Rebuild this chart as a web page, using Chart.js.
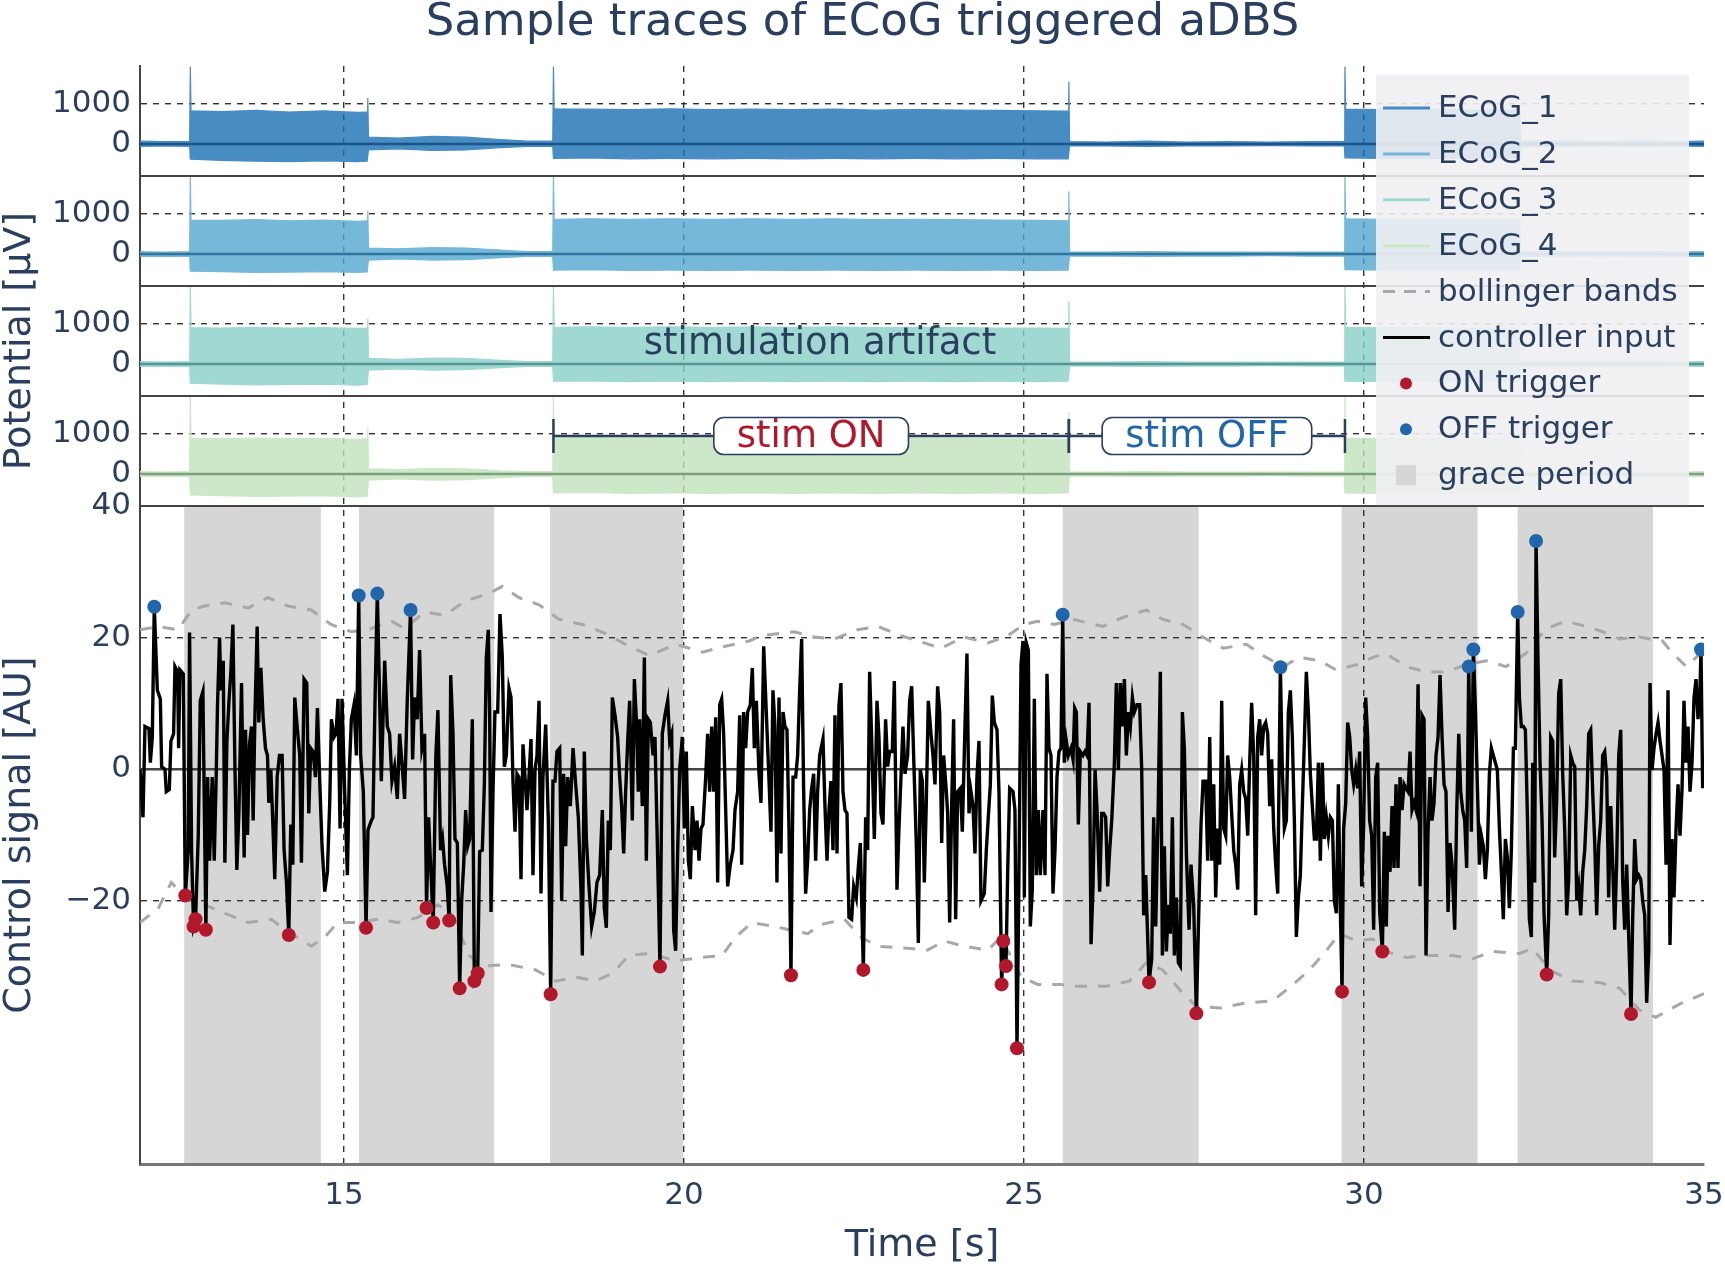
<!DOCTYPE html>
<html>
<head>
<meta charset="utf-8">
<title>Sample traces of ECoG triggered aDBS</title>
<script src="https://cdn.jsdelivr.net/npm/chart.js@4.4.1/dist/chart.umd.min.js"></script>
<style>
  html, body { margin: 0; padding: 0; background: #fff; }
  canvas { display: block; }
</style>
</head>
<body>
<canvas id="chart" width="1725" height="1269"></canvas>
<script>
const FONT = '"DejaVu Sans", Verdana, sans-serif';
const TEXT = '#2a3f5f';

// axes
const xTicks = [15, 20, 25, 30, 35];
const ecogTicks = [0, 1000];
const controlTicks = [-20, 0, 20, 40];

const channels = ['ECoG_1', 'ECoG_2', 'ECoG_3', 'ECoG_4'];
const legendLabels = ['ECoG_1', 'ECoG_2', 'ECoG_3', 'ECoG_4', 'bollinger bands',
  'controller input', 'ON trigger', 'OFF trigger', 'grace period'];

// ECoG envelopes (upper / lower edge of the recorded trace), shared time points in s
const ecogTime = [12.00, 12.35, 12.73, 12.74, 12.75,
  13.20, 13.70, 14.20, 14.70, 15.20, 15.34, 15.35,
  15.36, 15.80, 16.30, 16.80, 17.30, 17.70, 18.07, 18.08, 18.09,
  18.60, 19.20, 19.80, 20.40, 21.00, 21.60, 22.20, 22.80, 23.40, 24.00, 24.60, 25.20, 25.65, 25.66,
  25.67, 26.20, 26.80, 27.40, 28.00, 28.60, 29.20, 29.71, 29.72, 29.73,
  30.30, 30.90, 31.50, 32.29, 32.30, 32.90, 33.50, 34.10, 34.60, 35.00];
const ecog1Upper = [70, 60, 60, 1940, 830, 810, 840, 800, 830, 790, 800, 1150,
  170, 150, 190, 170, 110, 70, 70, 1940, 880,
  870, 860, 880, 860, 870, 860, 870, 850, 860, 850, 840, 830, 820, 1560,
  60, 50, 70, 50, 60, 50, 60, 60, 1940, 870, 860, 860, 850, 850, 80, 70, 60, 70, 60, 70];
const ecog1Lower = [-60, -50, -60, -380, -380, -410, -430, -440, -420, -440, -430, -430,
  -150, -120, -160, -150, -90, -60, -60, -360, -360,
  -350, -370, -360, -370, -360, -370, -360, -370, -360, -370, -360, -370, -370, -370,
  -50, -50, -60, -50, -50, -40, -50, -50, -350, -350, -360, -360, -360, -360, -60, -60, -50, -60, -50, -60];
const ecog2Upper = [60, 50, 60, 1940, 850, 840, 860, 830, 850, 820, 830, 1080,
  150, 130, 160, 150, 100, 60, 60, 1940, 870,
  880, 870, 880, 870, 880, 870, 880, 860, 870, 860, 850, 840, 830, 1560,
  50, 50, 60, 50, 50, 50, 50, 50, 1940, 880, 870, 870, 860, 860, 70, 60, 60, 60, 50, 60];
const ecog2Lower = [-60, -50, -60, -430, -430, -440, -460, -450, -440, -460, -450, -450,
  -150, -120, -150, -140, -90, -60, -60, -400, -400,
  -390, -410, -400, -410, -400, -410, -400, -410, -400, -410, -400, -410, -400, -400,
  -50, -50, -60, -50, -50, -40, -50, -50, -390, -390, -400, -400, -400, -400, -60, -60, -50, -60, -50, -60];
const ecog3Upper = [60, 50, 60, 1940, 910, 900, 920, 900, 910, 890, 900, 1140,
  140, 120, 150, 140, 90, 60, 60, 1940, 920,
  930, 920, 930, 920, 930, 920, 930, 910, 920, 910, 900, 900, 890, 1570,
  50, 50, 60, 50, 50, 50, 50, 50, 1940, 920, 910, 910, 900, 900, 70, 60, 60, 60, 50, 60];
const ecog3Lower = [-60, -50, -60, -480, -480, -500, -520, -510, -500, -530, -510, -510,
  -150, -120, -150, -140, -90, -60, -60, -430, -430,
  -420, -440, -430, -440, -430, -440, -430, -440, -430, -440, -430, -440, -430, -430,
  -50, -50, -60, -50, -50, -40, -50, -50, -430, -430, -440, -440, -440, -440, -60, -60, -50, -60, -50, -60];
const ecog4Upper = [60, 50, 60, 1940, 890, 880, 900, 880, 890, 870, 880, 1180,
  130, 110, 140, 130, 80, 60, 60, 1940, 900,
  910, 900, 910, 900, 910, 900, 910, 890, 900, 890, 880, 880, 870, 1560,
  50, 50, 60, 50, 50, 50, 50, 50, 1940, 900, 890, 890, 880, 880, 70, 60, 60, 60, 50, 60];
const ecog4Lower = [-60, -50, -60, -520, -520, -540, -560, -550, -540, -570, -550, -550,
  -150, -120, -150, -140, -90, -60, -60, -470, -470,
  -460, -480, -470, -480, -470, -480, -470, -480, -470, -480, -470, -480, -470, -470,
  -50, -50, -60, -50, -50, -40, -50, -50, -470, -470, -480, -480, -480, -480, -60, -60, -50, -60, -50, -60];
const ecogZeroTime = [12, 35];
const ecogZeroValue = [0, 0];

// controller input [time s, value AU]
const controlInput = [
  [12.000,0],[12.044,-7.3],[12.073,6.5],[12.132,6.2],[12.152,1],[12.181,4.9],[12.210,24.7],[12.255,12],[12.299,10.7],[12.318,0.4],
  [12.367,0],[12.387,-3.4],[12.431,-3.1],[12.455,4.3],[12.494,5.4],[12.514,15.6],[12.553,14.8],[12.568,3.2],[12.587,15.1],[12.636,14.5],
  [12.666,-19.2],[12.710,-12.3],[12.729,20.8],[12.759,-12.8],[12.788,-23.9],[12.817,-22.8],[12.857,-10],[12.886,10.4],[12.925,11.8],[12.969,-24.4],
  [12.994,-1.2],[13.023,-13.9],[13.062,-1.2],[13.092,-13.9],[13.121,-0.7],[13.140,9.8],[13.170,20],[13.189,12],[13.224,16.5],[13.248,-14.2],
  [13.278,4.3],[13.307,10.1],[13.336,14.8],[13.366,22],[13.395,1],[13.424,-15.3],[13.454,-6.7],[13.493,13.1],[13.532,-13.4],[13.552,6],
  [13.581,-10],[13.610,3.8],[13.640,6.5],[13.664,-7.8],[13.689,7.6],[13.723,21.7],[13.747,7.1],[13.777,15.4],[13.811,7.6],[13.845,3.2],
  [13.875,2.1],[13.894,-5.1],[13.924,-0.1],[13.948,-6.7],[13.982,-16.7],[14.017,-1.2],[14.051,2.1],[14.090,2.1],[14.119,-12.3],[14.154,-17.2],
  [14.188,-25.2],[14.217,-8.4],[14.247,-14.5],[14.276,10.9],[14.315,6],[14.349,2.1],[14.374,-14.2],[14.413,13.7],[14.452,13.1],[14.482,-6.7],
  [14.511,3.2],[14.545,2.7],[14.580,-1.2],[14.609,9.3],[14.643,-1.8],[14.677,-11.7],[14.717,-18.6],[14.756,-15.6],[14.790,-5.1],[14.815,7.6],
  [14.854,4.9],[14.883,5.4],[14.912,10.7],[14.942,-9],[14.971,10.7],[15.010,-3.4],[15.050,-16.1],[15.079,-0.1],[15.108,7.6],[15.147,9.8],
  [15.182,2.1],[15.216,26.4],[15.245,2.1],[15.284,-3.4],[15.324,-24.1],[15.353,-9.2],[15.402,-7.8],[15.426,-7.3],[15.461,13.1],[15.490,26.7],
  [15.519,13.1],[15.549,-1.8],[15.598,16.5],[15.637,6.5],[15.671,5.4],[15.705,-1.8],[15.744,0.4],[15.784,-4.5],[15.818,5.4],[15.852,1],
  [15.891,-4.5],[15.930,10.4],[15.979,24.2],[16.009,1.5],[16.038,10.9],[16.077,7.6],[16.112,18.1],[16.146,3.2],[16.185,5.4],[16.214,-21.1],
  [16.244,-7.3],[16.273,-14.5],[16.312,-23.3],[16.351,2.1],[16.381,9],[16.420,-12.3],[16.449,-10.6],[16.479,-14.5],[16.518,-17.8],[16.547,-23],
  [16.569,14.3],[16.603,5.4],[16.632,-10.6],[16.667,-11.2],[16.701,-33.3],[16.730,-20],[16.760,-14.5],[16.789,-6.2],[16.819,-11.7],[16.848,-10.6],
  [16.887,7.6],[16.917,-32.2],[16.966,-31],[16.995,-12.5],[17.034,-12.3],[17.064,-2.3],[17.093,17],[17.122,21.2],[17.142,8.2],[17.162,-21.7],
  [17.191,-3.4],[17.220,8.7],[17.260,8.7],[17.294,23.6],[17.328,17],[17.358,0.4],[17.387,2.1],[17.426,12.3],[17.456,10.9],[17.485,-1.8],
  [17.515,-9.5],[17.544,-0.7],[17.573,-1.2],[17.603,-16.7],[17.632,3.8],[17.662,-1.2],[17.691,-6.2],[17.720,-1.2],[17.750,4.6],[17.779,-16.1],
  [17.809,-0.1],[17.838,2.1],[17.868,10.4],[17.897,-18.9],[17.926,-1.2],[17.966,6.8],[18.005,-7.8],[18.039,-34.2],[18.073,-1.8],[18.103,-1.8],
  [18.132,2.7],[18.172,3.2],[18.201,-20],[18.230,-0.7],[18.260,-11.7],[18.289,-1.2],[18.328,-5.6],[18.368,3.2],[18.407,-2.3],[18.446,-7.3],
  [18.485,-18.3],[18.505,-28.3],[18.534,2.7],[18.564,-10.6],[18.603,-17.8],[18.642,-23.9],[18.681,-21.7],[18.720,-17.2],[18.760,-16.1],[18.799,-6.2],
  [18.828,-21.1],[18.858,-24.1],[18.887,-7.8],[18.917,-12.3],[18.946,10.9],[18.985,8.2],[19.024,4.9],[19.054,-1.2],[19.083,-5.6],[19.113,-12.8],
  [19.142,-3.4],[19.172,4.3],[19.201,10.4],[19.240,-7.8],[19.270,13.7],[19.299,7.6],[19.328,-3.4],[19.348,7.6],[19.387,-5.6],[19.417,17],
  [19.446,-13.9],[19.475,7.6],[19.505,7.1],[19.544,2.1],[19.573,4.9],[19.603,-9],[19.647,-30],[19.681,5.4],[19.720,8.2],[19.760,10.4],
  [19.789,4.3],[19.819,5.4],[19.848,-24.4],[19.877,-27.6],[19.907,-12.3],[19.936,-0.1],[19.975,4.9],[20.005,-9],[20.034,2.7],[20.064,-13.9],
  [20.093,-16.7],[20.123,-5.6],[20.162,-12.3],[20.191,-7.8],[20.221,-13.9],[20.250,-9],[20.279,-8.4],[20.319,-1.2],[20.348,5.4],[20.377,-3.4],
  [20.407,6.5],[20.436,-3.4],[20.466,7.9],[20.495,-17.2],[20.525,9.8],[20.554,10.7],[20.583,5.4],[20.613,-6.2],[20.642,-17.8],[20.681,-14.5],
  [20.721,-12.3],[20.750,-6.2],[20.789,-3.4],[20.819,8.2],[20.848,-14.5],[20.877,8.7],[20.907,3.2],[20.936,8.7],[20.975,9.8],[21.005,15.4],
  [21.034,3.2],[21.064,10.4],[21.103,-0.7],[21.132,-5.1],[21.172,18.7],[21.210,8.7],[21.240,1],[21.279,-9.5],[21.308,12],[21.338,6.5],
  [21.367,-17.2],[21.397,10.9],[21.426,-12.8],[21.456,8.7],[21.485,6.5],[21.514,6],[21.544,-9],[21.573,-31.3],[21.603,-1.2],[21.642,-1.2],
  [21.671,2.1],[21.701,12],[21.730,19.8],[21.759,-2.9],[21.789,-18.9],[21.818,-13.9],[21.848,-6.2],[21.877,-2.9],[21.907,-0.7],[21.936,-13.9],
  [21.965,-3.4],[21.995,2.1],[22.044,4.6],[22.073,-5.6],[22.103,-13.9],[22.132,-6.2],[22.161,-1.8],[22.191,-12.3],[22.220,8.2],[22.250,-12.8],
  [22.279,9.8],[22.308,13.1],[22.338,-3.4],[22.367,-6.2],[22.397,-6.7],[22.426,-22.5],[22.465,-22.8],[22.495,-17.8],[22.534,-19.5],[22.563,-15],
  [22.593,-11.2],[22.637,-30.5],[22.671,-7.3],[22.701,-12.3],[22.730,14.8],[22.759,4.9],[22.799,-10.6],[22.838,10.4],[22.867,4.9],[22.897,-6.7],
  [22.926,-8.4],[22.965,7.6],[22.995,0.4],[23.024,2.7],[23.063,2.7],[23.093,13.4],[23.132,-18.3],[23.161,-9],[23.191,-1.2],[23.220,6.5],
  [23.250,-0.7],[23.289,2.1],[23.318,10.4],[23.348,12.6],[23.377,2.1],[23.416,-11.2],[23.446,-26.4],[23.475,-0.1],[23.505,-1.8],[23.534,-17.2],
  [23.563,-5.1],[23.593,10.4],[23.632,5.4],[23.661,2.1],[23.691,-2.3],[23.730,12.6],[23.760,8.7],[23.789,-11.2],[23.818,2.1],[23.858,-3.4],
  [23.877,-6.7],[23.907,-23.3],[23.936,-5.6],[23.965,7.6],[23.995,-22.8],[24.024,-3.4],[24.064,-2.9],[24.093,-9.5],[24.132,6.5],[24.161,17.6],
  [24.191,-6.7],[24.220,-3.4],[24.250,-5.6],[24.279,-12.8],[24.308,-1.2],[24.338,4.3],[24.367,-20],[24.416,-18.9],[24.446,-12.3],[24.475,-7.3],
  [24.505,-2.3],[24.534,11.2],[24.564,7.1],[24.603,6],[24.632,-3.4],[24.671,-32.7],[24.696,-26.1],[24.735,-29.9],[24.760,-15.6],[24.789,-2.9],
  [24.838,-3.4],[24.867,-6.2],[24.897,-42.4],[24.926,-15.6],[24.956,15.9],[24.985,19.5],[25.005,-19.5],[25.034,19.2],[25.064,18.1],[25.093,-23.9],
  [25.122,-18.3],[25.152,10.7],[25.181,-16.1],[25.211,-6.2],[25.240,-16.1],[25.279,-6.2],[25.309,-16.1],[25.338,14.5],[25.368,3.2],[25.397,2.1],
  [25.426,-18.9],[25.456,-12.3],[25.485,-1.2],[25.515,2.7],[25.544,3.2],[25.569,23.5],[25.593,1],[25.622,4.3],[25.652,2.1],[25.691,3.2],
  [25.721,1.5],[25.745,9.3],[25.770,8.7],[25.799,-8.4],[25.829,2.7],[25.868,2.1],[25.897,2.7],[25.927,2.1],[25.956,10.1],[25.986,-26.6],
  [26.015,-17.8],[26.045,-0.1],[26.074,-6.2],[26.113,-18.6],[26.143,-6.7],[26.172,-6.7],[26.201,-7.3],[26.231,-17.8],[26.260,-12.3],[26.290,-7.8],
  [26.329,1],[26.358,13.1],[26.388,-0.1],[26.417,13.1],[26.446,6.5],[26.476,13.7],[26.505,2.1],[26.535,8.7],[26.564,6.5],[26.594,10.9],
  [26.623,8.7],[26.662,9.8],[26.701,9.8],[26.731,-0.1],[26.760,-22.2],[26.790,-16.1],[26.839,-32.4],[26.878,-28.8],[26.907,-7.3],[26.937,-23.9],
  [26.971,-7.3],[27.005,14.8],[27.035,-28.3],[27.064,-11.7],[27.094,-27.7],[27.123,-20.6],[27.152,-25],[27.182,-7.3],[27.211,-28.3],[27.241,-19.5],
  [27.270,-29.4],[27.299,-29.9],[27.329,8.7],[27.358,3.2],[27.388,-12.8],[27.427,-24.4],[27.456,-14.5],[27.495,-20.6],[27.535,-37.1],[27.574,-20],
  [27.603,-8.4],[27.633,-1.8],[27.672,-1.8],[27.701,-13.9],[27.731,4.9],[27.760,-13.9],[27.790,-2.3],[27.819,-19.5],[27.848,-9],[27.878,-14.5],
  [27.907,10.4],[27.937,-9],[27.966,-10.1],[27.995,2.1],[28.025,-1.2],[28.054,-6.7],[28.084,-12.3],[28.113,-14.5],[28.143,-18.3],[28.172,-2.3],
  [28.201,-0.1],[28.231,-3.4],[28.260,-4.5],[28.290,-10.1],[28.319,1],[28.348,10.1],[28.378,2.1],[28.407,-22.2],[28.437,4.9],[28.466,7.6],
  [28.495,2.1],[28.525,6.5],[28.554,7.1],[28.584,5.4],[28.613,-5.6],[28.642,1.5],[28.672,-9],[28.701,-14.5],[28.731,-18.9],[28.770,15.5],
  [28.799,-0.1],[28.829,-9],[28.858,-7.8],[28.888,8.7],[28.917,12],[28.946,4.9],[28.976,-7.8],[29.005,-25.5],[29.035,-19.5],[29.064,-16.1],
  [29.093,-5.6],[29.123,4.3],[29.152,14.8],[29.182,8.7],[29.211,-0.7],[29.240,-5.6],[29.270,-10.6],[29.299,-10.6],[29.329,1],[29.358,-13.9],
  [29.387,1],[29.417,-10.6],[29.446,-7.3],[29.476,-10.1],[29.505,-7.3],[29.535,-7.8],[29.564,-20],[29.594,-21.9],[29.623,-2.3],[29.652,-21.1],
  [29.677,-33.8],[29.701,-9],[29.731,-5.1],[29.760,7.1],[29.790,4.9],[29.819,-0.1],[29.848,-2.3],[29.878,-0.1],[29.907,-2.9],[29.936,2.7],
  [29.966,-17.8],[29.995,-8.4],[30.025,10.9],[30.054,4.9],[30.083,-7.8],[30.113,-10.1],[30.142,-24.4],[30.172,-1.2],[30.201,1],[30.231,-21.7],
  [30.270,-27.7],[30.299,-9.5],[30.328,-23.9],[30.353,-10.1],[30.383,-15.6],[30.412,-5.6],[30.442,-15],[30.471,-2.3],[30.500,-15],[30.530,-1.2],
  [30.559,-6.2],[30.589,-2.3],[30.618,-2.9],[30.648,-3.4],[30.677,2.7],[30.706,-6.2],[30.736,-5.1],[30.765,-6.2],[30.795,12.9],[30.824,-17.8],
  [30.853,8.2],[30.883,7.6],[30.912,-28.3],[30.942,-9.5],[30.971,-1.2],[31.000,-7.8],[31.030,-5.1],[31.059,2.1],[31.089,4.9],[31.118,14.3],
  [31.148,4.9],[31.177,-2.3],[31.206,-3.4],[31.236,-21.7],[31.265,-11.2],[31.295,-14.5],[31.334,-24.4],[31.363,-6.7],[31.393,5.4],[31.422,-3.4],
  [31.451,-6.2],[31.481,-7.8],[31.510,-15],[31.540,15.6],[31.579,-9.5],[31.608,18.2],[31.638,9.3],[31.667,-2.3],[31.697,-14.5],[31.726,-10.1],
  [31.755,-11.7],[31.785,-16.7],[31.814,-12.3],[31.844,-0.7],[31.873,3.2],[31.902,2.1],[31.932,1],[31.961,-0.1],[31.991,-9],[32.020,-15.6],
  [32.049,-22.8],[32.079,-10.6],[32.108,-13.4],[32.138,-21.1],[32.167,-12.3],[32.197,3.2],[32.226,3.2],[32.260,23.9],[32.285,10.9],[32.314,6.5],
  [32.344,6.5],[32.373,6],[32.402,-6.7],[32.432,-22.8],[32.461,-25.5],[32.481,1],[32.510,-17.2],[32.530,34.7],[32.559,16.5],[32.589,1],
  [32.618,-7.8],[32.648,-22.2],[32.687,-31.2],[32.716,-22.2],[32.746,4.9],[32.775,4.3],[32.804,-13.4],[32.834,-4.5],[32.863,11.5],[32.893,13.7],
  [32.922,-0.7],[32.951,-9],[32.981,-22.2],[33.010,-16.7],[33.040,2.1],[33.069,1],[33.099,0.4],[33.128,-20],[33.157,-17.8],[33.187,-22.2],
  [33.216,-15.6],[33.246,-12.3],[33.275,-5.6],[33.304,5.4],[33.334,6],[33.363,-3.4],[33.393,-11.2],[33.422,-22.2],[33.451,-11.7],[33.481,-7.8],
  [33.510,2.1],[33.540,2.7],[33.569,-1.2],[33.598,-19.5],[33.628,-5.6],[33.657,-14.5],[33.687,-24.4],[33.716,-13.9],[33.746,2.1],[33.775,6],
  [33.804,-16.7],[33.834,-24.4],[33.863,-14.5],[33.893,-25.5],[33.927,-37.2],[33.951,-22.8],[33.981,-10.6],[34.010,-16.7],[34.040,-16.1],[34.069,-16.7],
  [34.098,-20],[34.128,-22.2],[34.157,-35.5],[34.187,-27.7],[34.206,13.1],[34.236,-0.1],[34.265,3.2],[34.295,5.4],[34.324,7.1],[34.353,4.3],
  [34.383,2.1],[34.412,-0.1],[34.442,-14.5],[34.471,12],[34.500,-26.7],[34.530,-10.6],[34.559,-19.5],[34.589,-9],[34.618,-2.3],[34.647,-10.1],
  [34.677,-2.9],[34.706,10.4],[34.736,1],[34.765,6.5],[34.794,-3.4],[34.824,1],[34.853,10.9],[34.883,13.7],[34.912,7.6],[34.941,12],
  [34.956,18.2],[34.980,-2.9]
];

// bollinger bands [time s, value AU]
const bandUpper = [
  [12.00,21.2],[12.27,21.7],[12.56,21.2],[12.76,24.2],[12.95,24.8],[13.25,25.3],[13.59,24.5],[13.88,26.1],[14.18,24.8],[14.52,24.2],
  [14.81,22],[15.11,20.9],[15.40,21.4],[15.70,22.5],[15.89,21.4],[16.19,23.9],[16.48,23.4],[16.79,25.6],[17.13,26.7],[17.33,27.8],
  [17.57,26.1],[17.87,25],[18.16,22.8],[18.51,22],[18.85,20.6],[19.19,18.7],[19.49,17.3],[19.88,19],[20.27,17.8],[20.61,18.7],
  [20.96,19.5],[21.13,20.3],[21.62,20.9],[21.92,20.1],[22.21,19.8],[22.55,21.2],[22.85,21.7],[23.19,20.3],[23.53,19.2],[23.78,18.4],
  [24.12,20.1],[24.47,19.2],[24.76,20.3],[25.00,22],[25.20,22.5],[25.45,22],[25.72,22.8],[26.16,21.7],[26.46,23.1],[26.80,24.2],
  [27.04,22.8],[27.34,22],[27.63,20.1],[27.93,18.4],[28.27,19],[28.56,17],[28.81,15.6],[29.05,17],[29.35,16.5],[29.59,15.1],
  [29.89,15.9],[30.13,17],[30.32,17.6],[30.62,15.6],[30.91,14.8],[31.21,14.8],[31.50,15.9],[31.80,16.5],[32.09,15.6],[32.38,17.6],
  [32.68,21.4],[32.97,22.5],[33.27,21.7],[33.51,20.9],[33.76,19.8],[34.05,20.1],[34.39,19.5],[34.54,17.6],[34.74,15.6],[35.00,18.1]
];
const bandLower = [
  [12.00,-23.3],[12.27,-21.1],[12.46,-17.2],[12.66,-19.4],[12.95,-20.6],[13.25,-21.9],[13.59,-23.3],[13.93,-22.8],[14.13,-24.4],[14.52,-26.9],
  [14.72,-25.5],[14.91,-23.3],[15.21,-23.3],[15.50,-22.8],[15.79,-23.3],[16.09,-22.5],[16.38,-20.6],[16.60,-22.2],[16.84,-28.3],[17.03,-29.9],
  [17.43,-29.7],[17.82,-30.5],[18.11,-32.2],[18.41,-31.6],[18.70,-32.2],[18.95,-31],[19.19,-28.3],[19.49,-28],[19.88,-29.1],[20.27,-28.6],
  [20.56,-28.3],[20.76,-25.5],[21.00,-23.3],[21.33,-23.9],[21.82,-25],[22.01,-23.6],[22.36,-22.8],[22.60,-25.5],[22.85,-26.9],[23.29,-27.2],
  [23.58,-27.5],[23.83,-26.1],[24.12,-26.9],[24.47,-27.5],[24.66,-25.5],[24.96,-31.6],[25.20,-32.7],[25.54,-32.7],[25.72,-33],[26.21,-33],
  [26.55,-32.2],[26.80,-29.4],[27.04,-30.5],[27.29,-33.5],[27.53,-36],[27.88,-36.3],[28.27,-35.5],[28.66,-35.2],[28.96,-32.7],[29.20,-30.5],
  [29.45,-27.5],[29.64,-25],[29.89,-26.1],[30.13,-25.8],[30.32,-27.7],[30.62,-28.6],[30.91,-28.3],[31.30,-28.3],[31.60,-28.8],[31.89,-27.7],
  [32.29,-28],[32.48,-27.2],[32.73,-30.5],[33.07,-32.2],[33.46,-32.4],[33.76,-33.3],[34.05,-36.6],[34.29,-37.7],[34.64,-35.7],[35.00,-34.1]
];

// triggers
const onTriggerTime = [12.666, 12.788, 12.817, 12.969, 14.188, 15.324, 16.214, 16.312, 16.547, 16.701, 16.917, 16.966,
  18.039, 19.647, 21.573, 22.637, 24.671, 24.696, 24.735, 24.897, 26.839, 27.535, 29.677, 30.270, 32.687, 33.927];
const onTriggerValue = [-19.2, -23.9, -22.8, -24.4, -25.2, -24.1, -21.1, -23.3, -23, -33.3, -32.2, -31,
  -34.2, -30, -31.3, -30.5, -32.7, -26.1, -29.9, -42.4, -32.4, -37.1, -33.8, -27.7, -31.2, -37.2];
const offTriggerTime = [12.210, 15.216, 15.490, 15.979, 25.569, 28.770, 31.540, 31.608, 32.260, 32.530, 34.956];
const offTriggerValue = [24.7, 26.4, 26.7, 24.2, 23.5, 15.5, 15.6, 18.2, 23.9, 34.7, 18.2];

// grace periods (s)
const graceStart = [12.65, 15.22, 18.03, 25.57, 29.67, 32.26];
const graceEnd = [14.66, 17.21, 19.99, 27.57, 31.67, 34.25];

// stimulation state annotation
const stimLabels = ['stim ON', 'stim OFF'];
const stimFrom = [18.08, 25.66];
const stimTo = [25.66, 29.72];
const stimBracketLevel = 950;
const artifactLabelTime = 22.0;
const artifactLabelLevel = 500;

// colours
const ecogFill = ['rgba(26,111,181,0.8)', 'rgba(84,166,209,0.8)', 'rgba(136,206,199,0.8)', 'rgba(191,226,186,0.8)'];
const ecogEdge = ['rgb(72,140,196)', 'rgb(118,184,218)', 'rgb(160,216,210)', 'rgb(204,232,200)'];
const ecogCenter = ['rgb(28,84,138)', 'rgb(48,116,160)', 'rgb(84,150,150)', 'rgb(125,160,125)'];
const onColor = '#b2182b';
const offColor = '#2166ac';
const graceColor = 'rgb(214,214,214)';
const bandColor = 'rgb(168,168,168)';

const ecogUpper = [ecog1Upper, ecog2Upper, ecog3Upper, ecog4Upper];
const ecogLower = [ecog1Lower, ecog2Lower, ecog3Lower, ecog4Lower];
const ecogAxes = ['e1', 'e2', 'e3', 'e4'];

const toXY = (t, v) => t.map((x, i) => ({x, y: v[i]}));
const pairs = p => p.map(d => ({x: d[0], y: d[1]}));

const datasets = [];
channels.forEach((name, i) => {
  datasets.push({
    label: name + ' upper', data: toXY(ecogTime, ecogUpper[i]), yAxisID: ecogAxes[i],
    borderColor: ecogEdge[i], borderWidth: 1.2, pointRadius: 0, fill: false, order: 10
  });
  datasets.push({
    label: name, data: toXY(ecogTime, ecogLower[i]), yAxisID: ecogAxes[i],
    borderColor: ecogEdge[i], borderWidth: 1.2, pointRadius: 0, fill: '-1',
    backgroundColor: ecogFill[i], order: 10
  });
  datasets.push({
    label: name + ' centre', data: toXY(ecogZeroTime, ecogZeroValue), yAxisID: ecogAxes[i],
    borderColor: ecogCenter[i], borderWidth: 2.5, pointRadius: 0, order: 5
  });
});
datasets.push({
  label: 'bollinger upper', data: pairs(bandUpper), yAxisID: 'c',
  borderColor: bandColor, borderWidth: 3, borderDash: [12, 11], pointRadius: 0, order: 3
});
datasets.push({
  label: 'bollinger lower', data: pairs(bandLower), yAxisID: 'c',
  borderColor: bandColor, borderWidth: 3, borderDash: [12, 11], pointRadius: 0, order: 3
});
datasets.push({
  label: 'controller input', data: pairs(controlInput), yAxisID: 'c',
  borderColor: '#000', borderWidth: 3.4, pointRadius: 0, tension: 0, order: 2
});
datasets.push({
  label: 'ON trigger', data: toXY(onTriggerTime, onTriggerValue), yAxisID: 'c', showLine: false,
  pointRadius: 7, pointBackgroundColor: onColor, pointBorderWidth: 0, order: 1
});
datasets.push({
  label: 'OFF trigger', data: toXY(offTriggerTime, offTriggerValue), yAxisID: 'c', showLine: false,
  pointRadius: 7, pointBackgroundColor: offColor, pointBorderWidth: 0, order: 1
});

const tickFont = {family: FONT, size: 31};
const fixTicks = list => scale => { scale.ticks = list.map(v => ({value: v})); };
const plainLabel = v => v < 0 ? '\u2212' + Math.abs(v) : String(v);

function ecogScale(i) {
  return {
    type: 'linear', position: 'left', stack: 'panels', stackWeight: 1, weight: 6 - i,
    min: -800, max: 1950,
    afterBuildTicks: fixTicks(ecogTicks),
    afterFit: s => { s.width = 140; },
    ticks: {font: tickFont, color: TEXT, padding: 9, autoSkip: false, callback: plainLabel},
    grid: {
      drawTicks: false, lineWidth: 1.4,
      color: c => (c.tick && c.tick.value === 1000) ? '#333' : 'rgba(0,0,0,0)'
    },
    border: {display: true, color: '#444', width: 2, dash: [6, 6]}
  };
}

const scales = {
  x: {
    type: 'linear', min: 12, max: 35,
    afterBuildTicks: fixTicks(xTicks),
    afterFit: s => { s.height = 105; s.paddingRight = 0; s.paddingLeft = 0; },
    ticks: {font: tickFont, color: TEXT, padding: 13, maxRotation: 0, autoSkip: false, callback: plainLabel},
    grid: {
      drawTicks: false, lineWidth: 1.4,
      color: c => (c.tick && c.tick.value === 35) ? 'rgba(0,0,0,0)' : '#333'
    },
    border: {display: true, color: '#777', width: 3, dash: [6, 6]}
  },
  c: {
    type: 'linear', position: 'left', stack: 'panels', stackWeight: 5.98, weight: 1,
    min: -60, max: 40,
    afterBuildTicks: fixTicks(controlTicks),
    afterFit: s => { s.width = 140; },
    ticks: {font: tickFont, color: TEXT, padding: 9, autoSkip: false, callback: plainLabel},
    grid: {
      drawTicks: false,
      color: c => {
        if (!c.tick || c.tick.value === 40) return 'rgba(0,0,0,0)';
        return c.tick.value === 0 ? '#444' : '#333';
      },
      lineWidth: c => (c.tick && c.tick.value === 0) ? 2.5 : 1.4
    },
    border: {
      display: true, color: '#444', width: 2,
      dash: c => (c.tick && c.tick.value === 0) ? [] : [6, 6]
    }
  }
};
ecogAxes.forEach((id, i) => { scales[id] = ecogScale(i); });

function drawLegend(ctx, area, cScale) {
  const L = area.right - 328, R = area.right - 15, T = area.top + 9, B = cScale.top - 1;
  ctx.save();
  ctx.fillStyle = 'rgba(240,240,242,0.9)';
  ctx.fillRect(L, T, R - L, B - T);
  ctx.font = `31px ${FONT}`;
  ctx.textBaseline = 'middle';
  ctx.textAlign = 'left';
  const sx0 = L + 7, sx1 = L + 54, sxm = L + 30;
  legendLabels.forEach((label, i) => {
    const y = T + 33 + i * 45.9;
    ctx.setLineDash([]);
    if (i < 4) {
      ctx.strokeStyle = ecogEdge[i]; ctx.lineWidth = 3;
      ctx.beginPath(); ctx.moveTo(sx0, y); ctx.lineTo(sx1, y); ctx.stroke();
    } else if (i === 4) {
      ctx.strokeStyle = bandColor; ctx.lineWidth = 3; ctx.setLineDash([12, 9]);
      ctx.beginPath(); ctx.moveTo(sx0, y); ctx.lineTo(sx1, y); ctx.stroke();
      ctx.setLineDash([]);
    } else if (i === 5) {
      ctx.strokeStyle = '#000'; ctx.lineWidth = 3;
      ctx.beginPath(); ctx.moveTo(sx0, y); ctx.lineTo(sx1, y); ctx.stroke();
    } else if (i === 6 || i === 7) {
      ctx.fillStyle = i === 6 ? onColor : offColor;
      ctx.beginPath(); ctx.arc(sxm, y, 6, 0, Math.PI * 2); ctx.fill();
    } else {
      ctx.fillStyle = graceColor;
      ctx.fillRect(sxm - 10, y - 10, 20, 20);
    }
    ctx.fillStyle = TEXT;
    ctx.fillText(label, L + 62, y + 1);
  });
  ctx.restore();
}

function rotatedText(ctx, text, x, y) {
  ctx.save();
  ctx.translate(x, y);
  ctx.rotate(-Math.PI / 2);
  ctx.fillText(text, 0, 0);
  ctx.restore();
}

const panelDecor = {
  id: 'panelDecor',
  beforeDraw(chart) {
    const {ctx, scales: {x, c}} = chart;
    ctx.save();
    ctx.fillStyle = '#fff';
    ctx.fillRect(0, 0, chart.width, chart.height);
    ctx.fillStyle = graceColor;
    graceStart.forEach((s, i) => {
      const x0 = x.getPixelForValue(s), x1 = x.getPixelForValue(graceEnd[i]);
      ctx.fillRect(x0, c.top, x1 - x0, c.bottom - c.top);
    });
    ctx.restore();
  },
  afterDatasetsDraw(chart) {
    const {ctx, chartArea: a, scales: s} = chart;
    ctx.save();
    // separators between the stacked panels
    ctx.strokeStyle = '#444'; ctx.lineWidth = 2;
    ecogAxes.forEach(id => {
      const y = s[id].bottom;
      ctx.beginPath(); ctx.moveTo(a.left, y); ctx.lineTo(a.right, y); ctx.stroke();
    });
    ctx.font = `37px ${FONT}`;
    ctx.textAlign = 'center'; ctx.textBaseline = 'middle';
    ctx.fillStyle = TEXT;
    ctx.fillText('stimulation artifact', s.x.getPixelForValue(artifactLabelTime), s.e3.getPixelForValue(artifactLabelLevel));
    // stim ON / OFF brackets
    const yb = s.e4.getPixelForValue(stimBracketLevel);
    stimFrom.forEach((t0, i) => {
      const x0 = s.x.getPixelForValue(t0), x1 = s.x.getPixelForValue(stimTo[i]);
      ctx.strokeStyle = TEXT; ctx.lineWidth = 2.5;
      ctx.beginPath();
      ctx.moveTo(x0, yb); ctx.lineTo(x1, yb);
      ctx.moveTo(x0, yb - 17); ctx.lineTo(x0, yb + 17);
      ctx.moveTo(x1, yb - 17); ctx.lineTo(x1, yb + 17);
      ctx.stroke();
      const xm = (x0 + x1) / 2;
      const w = ctx.measureText(stimLabels[i]).width + 46, h = 37;
      ctx.beginPath();
      ctx.roundRect(xm - w / 2, yb - h / 2, w, h, 10);
      ctx.fillStyle = '#fff'; ctx.fill();
      ctx.lineWidth = 1.6; ctx.stroke();
      ctx.fillStyle = i === 0 ? onColor : offColor;
      ctx.fillText(stimLabels[i], xm, yb + 1);
    });
    ctx.restore();
  },
  afterDraw(chart) {
    const {ctx, chartArea: a, scales: s} = chart;
    drawLegend(ctx, a, s.c);
    ctx.save();
    ctx.fillStyle = TEXT;
    ctx.textAlign = 'center';
    ctx.textBaseline = 'alphabetic';
    ctx.font = `45px ${FONT}`;
    ctx.fillText('Sample traces of ECoG triggered aDBS', chart.width / 2, 35);
    ctx.textBaseline = 'middle';
    ctx.font = `38px ${FONT}`;
    ctx.fillText('Time [s]', (a.left + a.right) / 2, 1246);
    rotatedText(ctx, 'Potential [\u00b5V]', 20, 341);
    rotatedText(ctx, 'Control signal [AU]', 20, (s.c.top + s.c.bottom) / 2);
    ctx.restore();
  }
};

new Chart(document.getElementById('chart').getContext('2d'), {
  type: 'line',
  data: {datasets},
  options: {
    responsive: false,
    devicePixelRatio: 1,
    animation: false,
    events: [],
    parsing: false,
    layout: {padding: {left: 0, right: 21, top: 66, bottom: 0}},
    plugins: {legend: {display: false}, tooltip: {enabled: false}, title: {display: false}},
    scales
  },
  plugins: [panelDecor]
});
</script>
</body>
</html>
